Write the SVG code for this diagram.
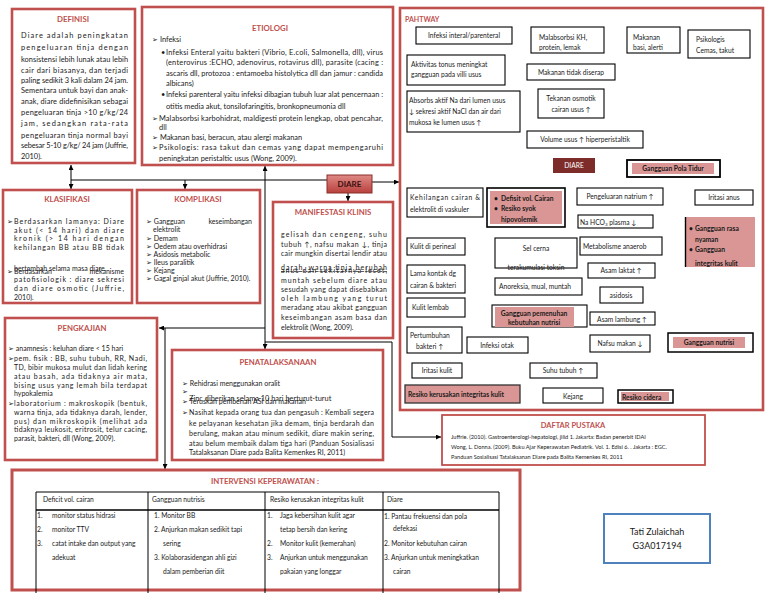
<svg xmlns="http://www.w3.org/2000/svg" width="768" height="593" viewBox="0 0 768 593">
<defs>
<marker id="a" viewBox="0 0 6 6" refX="6" refY="3" markerWidth="5" markerHeight="5" orient="auto"><path d="M0,0L6,3L0,6z" fill="#000"/></marker>
<linearGradient id="dg" x1="0" y1="0" x2="0" y2="1"><stop offset="0" stop-color="#e08a86"/><stop offset="1" stop-color="#b8403c"/></linearGradient>
</defs>
<style>
text{font-family:Lato,"Liberation Sans",sans-serif;fill:#1a1a1a}
.box{fill:#fff;stroke:#c0504d;stroke-width:2.6}
.h{font-size:7.8px;font-weight:bold;fill:#c0504d;text-anchor:middle}
.b{font-size:7.4px}
.s{font-size:7px}
.pb{fill:#fff;stroke:#000;stroke-width:1.1}
.pk{fill:#d99694}
.p{font-size:6.7px}
.c{text-anchor:middle}
.e{text-anchor:end}
.bd{font-weight:bold}
.ln{stroke:#000;stroke-width:1;fill:none}
.ar{stroke:#000;stroke-width:1;fill:none;marker-end:url(#a)}
.tb{stroke:#000;stroke-width:1;fill:none}
.t{font-size:6.7px}
</style>
<rect width="768" height="593" fill="#fff"/>

<g id="connectors">
<path class="ln" d="M71,180H327"/>
<path class="ar" d="M71,180V165"/>
<path class="ar" d="M71,180V189"/>
<path class="ar" d="M185,180V189"/>
<path class="ar" d="M265,180V166"/>
<path class="ar" d="M265,180V349"/>
<path class="ar" d="M265,328H159"/>
<path class="ar" d="M165,328V469"/>
<path class="ar" d="M265,342H392V437H441"/>
<path class="ar" d="M372,182H399"/>
<path class="ar" d="M348,193V201"/>
<path class="ar" d="M456,44V55"/>
<path class="ar" d="M456,85V91"/>
<path class="ar" d="M456,132V138H527"/>
<path class="ar" d="M571,53V64"/>
<path class="ar" d="M571,80V89"/>
<path class="ar" d="M571,118V131"/>
<path class="ln" d="M654,53V138"/>
<path class="ar" d="M717,58V138H644"/>
<path class="ar" d="M575,148V158"/>
<path class="ar" d="M595,165H627"/>
<path class="ln" d="M574,173V182M415,182H725"/>
<path class="ar" d="M415,182V188"/>
<path class="ar" d="M617,182V188"/>
<path class="ar" d="M725,182V190"/>
<path class="ar" d="M483,203H487"/>
<path class="ln" d="M442,217V230M415,230H543"/>
<path class="ar" d="M415,230V238"/>
<path class="ar" d="M543,230V238"/>
<path class="ar" d="M482,230V337"/>
<path class="ar" d="M433,255V265"/>
<path class="ar" d="M433,293V298"/>
<path class="ar" d="M433,317V327"/>
<path class="ar" d="M433,353V363"/>
<path class="ar" d="M433,378V385"/>
<path class="ar" d="M538,268V278"/>
<path class="ar" d="M538,295V305"/>
<path class="ar" d="M620,205V215"/>
<path class="ar" d="M620,228V237"/>
<path class="ar" d="M620,255V263"/>
<path class="ar" d="M620,278V287"/>
<path class="ar" d="M620,303V312"/>
<path class="ar" d="M620,325V335"/>
<path class="ar" d="M650,343H668"/>
<path class="ar" d="M725,205V217"/>
<path class="ar" d="M528,345H538V363"/>
<path class="ar" d="M565,378V388"/>
<path class="ar" d="M603,396H618"/>
</g>

<g id="definisi">
<rect class="box" x="12" y="9" width="123" height="154"/>
<text class="h" x="73" y="22">DEFINISI</text>
<text class="b" x="21" y="38" textLength="107">Diare adalah peningkatan</text>
<text class="b" x="21" y="50" textLength="107">pengeluaran tinja dengan</text>
<text class="b" x="21" y="62" textLength="107">konsistensi lebih lunak atau lebih</text>
<text class="b" x="21" y="73" textLength="107">cair dari biasanya, dan terjadi</text>
<text class="b" x="21" y="83" textLength="107">paling sedikit 3 kali dalam 24 jam.</text>
<text class="b" x="21" y="93" textLength="107">Sementara untuk bayi dan anak-</text>
<text class="b" x="21" y="104" textLength="107">anak, diare didefinisikan sebagai</text>
<text class="b" x="21" y="115" textLength="107">pengeluaran tinja &gt;10 g/kg/24</text>
<text class="b" x="21" y="126" textLength="107">jam, sedangkan rata-rata</text>
<text class="b" x="21" y="138" textLength="107">pengeluaran tinja normal bayi</text>
<text class="b" x="21" y="148" textLength="107">sebesar 5-10 g/kg/ 24 jam (Juffrie,</text>
<text class="b" x="21" y="159">2010).</text>
</g>

<g id="etiologi">
<rect class="box" x="142" y="7" width="251" height="158"/>
<text class="h" x="270" y="31">ETIOLOGI</text>
<text class="b" x="152" y="42">➢ Infeksi</text>
<text class="b" x="161" y="54.5">•</text>
<text class="b" x="166" y="54.5" textLength="217">Infeksi Enteral yaitu bakteri (Vibrio, E.coli, Salmonella, dll), virus</text>
<text class="b" x="166" y="64.5" textLength="217">(enterovirus :ECHO, adenovirus, rotavirus dll), parasite (cacing :</text>
<text class="b" x="166" y="75.5" textLength="217">ascaris dll, protozoa : entamoeba histolytica dll dan jamur : candida</text>
<text class="b" x="166" y="85.5">albicans)</text>
<text class="b" x="161" y="96.5">•</text>
<text class="b" x="166" y="96.5" textLength="217">Infeksi parenteral yaitu infeksi dibagian tubuh luar alat pencernaan :</text>
<text class="b" x="166" y="108.5">otitis media akut, tonsilofaringitis, bronkopneumonia dll</text>
<text class="b" x="152" y="120.5">➢</text>
<text class="b" x="159" y="120.5" textLength="224">Malabsorbsi karbohidrat, maldigesti protein lengkap, obat pencahar,</text>
<text class="b" x="159" y="130">dll</text>
<text class="b" x="152" y="140">➢ Makanan basi, beracun, atau alergi makanan</text>
<text class="b" x="152" y="150">➢</text>
<text class="b" x="159" y="150" textLength="224">Psikologis: rasa takut dan cemas yang dapat mempengaruhi</text>
<text class="b" x="159" y="160.5">peningkatan peristaltic usus (Wong, 2009).</text>
</g>

<g id="klasifikasi">
<rect class="box" x="3" y="190" width="129" height="113"/>
<text class="h" x="67" y="202">KLASIFIKASI</text>
<text class="s" x="7" y="224">➢</text>
<text class="s" x="14" y="224" textLength="110">Berdasarkan lamanya: Diare</text>
<text class="s" x="14" y="232.5" textLength="110">akut (&lt; 14 hari) dan diare</text>
<text class="s" x="14" y="241" textLength="110">kronik (&gt; 14 hari dengan</text>
<text class="s" x="14" y="250" textLength="110">kehilangan BB atau BB tidak</text>
<text class="s" x="14" y="270.5">bertambah selama masa diare.</text>
<text class="s" x="7" y="273.5">➢</text>
<text class="s" x="14" y="273.5">Berdasarkan</text>
<text class="s e" x="124" y="273.5">mekanisme</text>
<text class="s" x="14" y="282" textLength="110">patofisiologik : diare sekresi</text>
<text class="s" x="14" y="291" textLength="110">dan diare osmotic (Juffrie,</text>
<text class="s" x="14" y="300">2010).</text>
</g>

<g id="komplikasi">
<rect class="box" x="137" y="190" width="123" height="113"/>
<text class="h" x="198" y="202">KOMPLIKASI</text>
<text class="s" x="146" y="224">➢ Gangguan</text>
<text class="s e" x="252" y="224">keseimbangan</text>
<text class="s" x="153" y="232">elektrolit</text>
<text class="s" x="146" y="240.5">➢ Demam</text>
<text class="s" x="146" y="248.5">➢ Oedem atau overhidrasi</text>
<text class="s" x="146" y="256.5">➢ Asidosis metabolic</text>
<text class="s" x="146" y="264.5">➢ Ileus paralitik</text>
<text class="s" x="146" y="272.5">➢ Kejang</text>
<text class="s" x="146" y="281">➢ Gagal ginjal akut (Juffrie, 2010).</text>
</g>

<g id="diare-center">
<rect x="327" y="175" width="45" height="18" fill="url(#dg)" stroke="#8b2e2b" stroke-width="1"/>
<text class="c bd" x="349.5" y="187" style="font-size:8px;fill:#3a0f0f">DIARE</text>
</g>

<g id="manifestasi">
<rect class="box" x="273" y="202" width="120" height="136"/>
<text class="h" x="333" y="215">MANIFESTASI KLINIS</text>
<text class="s" x="281" y="236.5" textLength="106">gelisah dan cengeng, suhu</text>
<text class="s" x="281" y="246.5" textLength="106">tubuh ↑, nafsu makan ↓, tinja</text>
<text class="s" x="281" y="255.5" textLength="106">cair mungkin disertai lendir atau</text>
<text class="s" x="281" y="270" textLength="106" text-decoration="underline">darah, warna tinja berubah</text>
<text class="s" x="281" y="273" textLength="106">anus dan sekitarnya lecet,</text>
<text class="s" x="281" y="282.5" textLength="106">muntah sebelum diare atau</text>
<text class="s" x="281" y="291.5" textLength="106">sesudah yang dapat disebabkan</text>
<text class="s" x="281" y="300.5" textLength="106">oleh lambung yang turut</text>
<text class="s" x="281" y="309.5" textLength="106">meradang atau akibat gangguan</text>
<text class="s" x="281" y="320" textLength="106">keseimbangan asam basa dan</text>
<text class="s" x="281" y="329.5">elektrolit (Wong, 2009).</text>
</g>

<g id="pengkajian">
<rect class="box" x="5" y="318" width="152" height="142"/>
<text class="h" x="82" y="331">PENGKAJIAN</text>
<text class="s" x="8" y="350.5">➢ anamnesis : keluhan diare &lt; 15 hari</text>
<text class="s" x="8" y="360.5">➢</text>
<text class="s" x="14" y="360.5" textLength="133">pem. fisik : BB, suhu tubuh, RR, Nadi,</text>
<text class="s" x="14" y="369.5" textLength="133">TD, bibir mukosa mulut dan lidah kering</text>
<text class="s" x="14" y="378.5" textLength="133">atau basah, ada tidaknya air mata,</text>
<text class="s" x="14" y="387.5" textLength="133">bising usus yang lemah bila terdapat</text>
<text class="s" x="14" y="395.5">hypokalemia</text>
<text class="s" x="8" y="405.5">➢</text>
<text class="s" x="14" y="405.5" textLength="133">laboratorium : makroskopik (bentuk,</text>
<text class="s" x="14" y="414.5" textLength="133">warna tinja, ada tidaknya darah, lender,</text>
<text class="s" x="14" y="423.5" textLength="133">pus) dan mikroskopik (melihat ada</text>
<text class="s" x="14" y="432" textLength="133">tidaknya leukosit, eritrosit, telur cacing,</text>
<text class="s" x="14" y="441">parasit, bakteri, dll (Wong, 2009).</text>
</g>

<g id="penatalaksanaan">
<rect class="box" x="172" y="350" width="211" height="110"/>
<text class="h" x="278" y="365">PENATALAKSANAAN</text>
<text class="s" x="182" y="385.5">➢ Rehidrasi menggunakan oralit</text>
<text class="s" x="182" y="393.5">➢</text>
<text class="b" x="189" y="400.5">Zinc diberikan selama 10 hari berturut-turut</text>
<text class="s" x="182" y="404">➢ Teruskan pemberian ASI dan makanan</text>
<text class="s" x="182" y="414.5">➢</text>
<text class="s" x="189" y="414.5" textLength="185">Nasihat kepada orang tua dan pengasuh : Kembali segera</text>
<text class="s" x="189" y="425.5" textLength="185">ke pelayanan kesehatan jika demam,  tinja berdarah dan</text>
<text class="s" x="189" y="435.5" textLength="185">berulang, makan atau minum sedikit, diare  makin sering,</text>
<text class="s" x="189" y="445.5" textLength="185">atau belum membaik dalam tiga hari (Panduan Sosialisasi</text>
<text class="s" x="189" y="454.5">Tatalaksanan Diare pada Balita Kemenkes RI, 2011)</text>
</g>

<g id="pathway">
<rect class="box" x="400" y="8" width="363" height="402"/>
<text class="bd" x="405" y="22" style="font-size:7px;fill:#c0504d">PAHTWAY</text>
</g>

<g id="p-infeksi"><rect class="pb" x="416" y="27" width="96" height="17"/><text class="p c" x="464" y="38">Infeksi interal/parenteral</text></g>
<g id="p-aktivitas"><rect class="pb" x="407" y="55" width="98" height="30"/><text class="p" x="411" y="66.5">Aktivitas tonus meningkat</text><text class="p" x="411" y="77">gangguan pada villi usus</text></g>
<g id="p-absorbs"><rect class="pb" x="407" y="91" width="113" height="41"/><text class="p" x="409" y="102.5">Absorbs aktif Na dari lumen usus</text><text class="p" x="409" y="114">↓ sekresi aktif NaCl dan air dari</text><text class="p" x="409" y="125">mukosa ke lumen usus ↑</text></g>
<g id="p-malabsorbsi"><rect class="pb" x="531" y="27" width="73" height="26"/><text class="p" x="539" y="39.5">Malabsorbsi KH,</text><text class="p" x="539" y="50">protein, lemak</text></g>
<g id="p-makanan-tidak"><rect class="pb" x="527" y="64" width="88" height="16"/><text class="p c" x="571" y="74.5">Makanan tidak diserap</text></g>
<g id="p-tekanan"><rect class="pb" x="538" y="89" width="66" height="29"/><text class="p c" x="571" y="101">Tekanan osmotik</text><text class="p c" x="571" y="112">cairan usus ↑</text></g>
<g id="p-volume"><rect class="pb" x="527" y="131" width="116" height="17"/><text class="p c" x="585" y="142">Volume usus ↑ hiperperistaltik</text></g>
<g id="p-makanan-basi"><rect class="pb" x="627" y="27" width="53" height="26"/><text class="p" x="633" y="39.5">Makanan</text><text class="p" x="633" y="50">basi, alerti</text></g>
<g id="p-psikologis"><rect class="pb" x="688" y="30" width="62" height="28"/><text class="p" x="696" y="41.5">Psikologis</text><text class="p" x="696" y="52.5">Cemas, takut</text></g>
<g id="p-diare"><rect x="553" y="158" width="42" height="15" fill="#7d2c2a"/><text class="p c" x="574" y="168" style="fill:#fff">DIARE</text></g>
<g id="p-pola-tidur"><rect x="627" y="160" width="93" height="17" fill="#fff" stroke="#000" stroke-width="1.8"/><rect class="pk" x="632" y="163" width="82" height="11"/><text class="p c bd" x="673" y="171">Gangguan Pola Tidur</text></g>
<g id="p-kehilangan"><rect class="pb" x="407" y="188" width="76" height="29"/><text class="p" x="410" y="200" textLength="70">Kehilangan cairan &amp;</text><text class="p" x="410" y="212">elektrolit di vaskuler</text></g>
<g id="p-defisit"><rect x="487" y="188" width="78" height="39" fill="#fff" stroke="#000" stroke-width="1.6"/><rect class="pk" x="490" y="191" width="72" height="33"/><text class="p bd" x="494" y="200.5">•</text><text class="p bd" x="501" y="200.5">Defisit vol. Cairan</text><text class="p bd" x="494" y="211">•</text><text class="p bd" x="501" y="211">Resiko syok</text><text class="p bd" x="501" y="221.5">hipovolemik</text></g>
<g id="p-natrium"><rect class="pb" x="577" y="188" width="86" height="17"/><text class="p c" x="620" y="199">Pengeluaran natrium ↑</text></g>
<g id="p-iritasi-anus"><rect class="pb" x="695" y="190" width="58" height="15"/><text class="p c" x="724" y="200">Iritasi anus</text></g>
<g id="p-rasa-nyaman"><rect class="pk" x="685" y="217" width="70" height="50"/><path d="M685.5,217V267" stroke="#000" stroke-width="1.4"/><text class="p bd" x="689" y="230.5">•</text><text class="p bd" x="695" y="230.5">Gangguan rasa</text><text class="p bd" x="695" y="241.5">nyaman</text><text class="p bd" x="689" y="252">•</text><text class="p bd" x="695" y="252">Gangguan</text><text class="p bd" x="695" y="266">integritas kulit</text></g>
<g id="p-kulit-perineal"><rect class="pb" x="407" y="238" width="58" height="17"/><text class="p" x="410" y="249">Kulit di perineal</text></g>
<g id="p-lama-kontak"><rect class="pb" x="407" y="265" width="58" height="28"/><text class="p" x="410" y="276">Lama kontak dg</text><text class="p" x="410" y="287.5">cairan &amp; bakteri</text></g>
<g id="p-kulit-lembab"><rect class="pb" x="407" y="298" width="58" height="19"/><text class="p" x="412" y="310">Kulit lembab</text></g>
<g id="p-pertumbuhan"><rect class="pb" x="407" y="327" width="55" height="26"/><text class="p" x="410" y="337.5">Pertumbuhan</text><text class="p" x="416" y="348.5">bakteri ↑</text></g>
<g id="p-iritasi-kulit"><rect class="pb" x="412" y="363" width="50" height="15"/><text class="p c" x="437" y="373">Iritasi kulit</text></g>
<g id="p-resiko-kulit"><rect class="pk" x="405" y="385" width="115" height="18" stroke="#333" stroke-width="1.3"/><text class="p bd" x="408" y="396.5">Resiko kerusakan integritas kulit</text></g>
<g id="p-sel-cerna"><rect class="pb" x="495" y="238" width="82" height="30"/><text class="p c" x="536" y="251">Sel cerna</text><text class="p c" x="536" y="270">terakumulasi toksin</text></g>
<g id="p-anoreksia"><rect class="pb" x="495" y="278" width="87" height="17"/><text class="p" x="499" y="289">Anoreksia, mual, muntah</text></g>
<g id="p-pemenuhan"><rect x="492" y="305" width="95" height="22" fill="#fff" stroke="#000" stroke-width="1.1"/><rect class="pk" x="495" y="307" width="79" height="20"/><text class="p c bd" x="534" y="315.5">Gangguan pemenuhan</text><text class="p c bd" x="534" y="325">kebutuhan nutrisi</text></g>
<g id="p-nahco3"><rect class="pb" x="578" y="215" width="75" height="13"/><text class="p" x="580" y="224.5">Na HCO<tspan style="font-size:4.5px" dy="1.5">3</tspan><tspan dy="-1.5"> plasma  ↓</tspan></text></g>
<g id="p-metabolisme"><rect class="pb" x="580" y="237" width="82" height="18"/><text class="p" x="583" y="248.5">Metabolisme  anaerob</text></g>
<g id="p-asam-laktat"><rect class="pb" x="588" y="263" width="67" height="15"/><text class="p c" x="621" y="273">Asam laktat ↑</text></g>
<g id="p-asidosis"><rect class="pb" x="600" y="287" width="43" height="16"/><text class="p c" x="621" y="297.5">asidosis</text></g>
<g id="p-asam-lambung"><rect class="pb" x="590" y="312" width="65" height="13"/><text class="p c" x="622" y="321.5">Asam lambung ↑</text></g>
<g id="p-nafsu"><rect class="pb" x="590" y="335" width="60" height="17"/><text class="p c" x="620" y="346">Nafsu makan ↓</text></g>
<g id="p-gangguan-nutrisi"><rect x="668" y="333" width="85" height="19" fill="#fff" stroke="#000" stroke-width="1.5"/><rect class="pk" x="673" y="337" width="72" height="11"/><text class="p c bd" x="709" y="345">Gangguan nutrisi</text></g>
<g id="p-infeksi-otak"><rect class="pb" x="467" y="337" width="61" height="16"/><text class="p c" x="497" y="347.5">Infeksi otak</text></g>
<g id="p-suhu"><rect class="pb" x="530" y="363" width="67" height="15"/><text class="p c" x="563" y="373">Suhu tubuh ↑</text></g>
<g id="p-kejang"><rect class="pb" x="543" y="388" width="60" height="15"/><text class="p c" x="573" y="398.5">Kejang</text></g>
<g id="p-cidera"><rect x="618" y="390" width="55" height="13" fill="#fff" stroke="#000" stroke-width="1.5"/><rect class="pk" x="621" y="392" width="48" height="9"/><text class="p bd" x="622" y="399.5">Resiko cidera</text></g>

<g id="daftar-pustaka">
<rect x="442" y="415" width="263" height="50" fill="#fff" stroke="#c0504d" stroke-width="1.8"/>
<text class="h" x="573" y="428" style="font-size:7.5px">DAFTAR PUSTAKA</text>
<text x="451" y="439" style="font-size:5.6px">Juffrie. (2010). Gastroenterologi-hepatologi, jilid 1. Jakarta: Badan penerbit IDAI</text>
<text x="451" y="448.5" style="font-size:5.6px">Wong, L. Donna. (2009). Buku Ajar Keperawatan Pediatrik. Vol. 1. Edisi 6. . Jakarta : EGC.</text>
<text x="451" y="459" style="font-size:5.6px">Panduan Sosialisasi Tatalaksanan Diare pada Balita Kemenkes RI, 2011</text>
</g>

<g id="intervensi">
<rect class="box" x="12" y="470" width="508" height="120" style="stroke-width:3"/>
<text class="h" x="265" y="484">INTERVENSI KEPERAWATAN :</text>
<path class="tb" d="M36,492H499M36,492V593M148,492V593M265,492V593M383,492V593M499,492V593"/>
<path d="M36,510H499" stroke="#000" stroke-width="1.6"/>
<text class="t" x="43" y="502">Deficit vol. cairan</text>
<text class="t" x="152" y="502">Gangguan nutrisis</text>
<text class="t" x="270" y="502">Resiko kerusakan integritas kulit</text>
<text class="t" x="387" y="502">Diare</text>
<text class="t" x="37" y="517.5">1.</text><text class="t" x="52" y="517.5">monitor status hidrasi</text>
<text class="t" x="37" y="532">2.</text><text class="t" x="52" y="532">monitor TTV</text>
<text class="t" x="37" y="545.5">3.</text><text class="t" x="52" y="545.5">catat intake dan output yang</text>
<text class="t" x="52" y="559.5">adekuat</text>
<text class="t" x="154" y="517.5">1. Monitor BB</text>
<text class="t" x="154" y="532">2. Anjurkan makan sedikit tapi</text>
<text class="t" x="163" y="545.5">sering</text>
<text class="t" x="154" y="559.5">3. Kolaborasidengan ahli gizi</text>
<text class="t" x="163" y="574">dalam pemberian diit</text>
<text class="t" x="267" y="517.5">1.</text><text class="t" x="280" y="517.5">Jaga kebersihan kulit agar</text>
<text class="t" x="280" y="532">tetap bersih dan kering</text>
<text class="t" x="267" y="545.5">2.</text><text class="t" x="280" y="545.5">Monitor kulit (kemerahan)</text>
<text class="t" x="267" y="559.5">3.</text><text class="t" x="280" y="559.5">Anjurkan untuk menggunakan</text>
<text class="t" x="280" y="574">pakaian yang longgar</text>
<text class="t" x="384" y="519">1. Pantau frekuensi dan pola</text>
<text class="t" x="393" y="530.5">defekasi</text>
<text class="t" x="384" y="546">2. Monitor kebutuhan cairan</text>
<text class="t" x="384" y="560">3. Anjurkan untuk meningkatkan</text>
<text class="t" x="393" y="574">cairan</text>
</g>

<g id="nama">
<rect x="604" y="514" width="106" height="49" fill="#fff" stroke="#4f81bd" stroke-width="2"/>
<text class="c" x="657" y="535" style="font-size:9px">Tati Zulaichah</text>
<text class="c" x="657" y="549" style="font-size:9px">G3A017194</text>
</g>
</svg>
